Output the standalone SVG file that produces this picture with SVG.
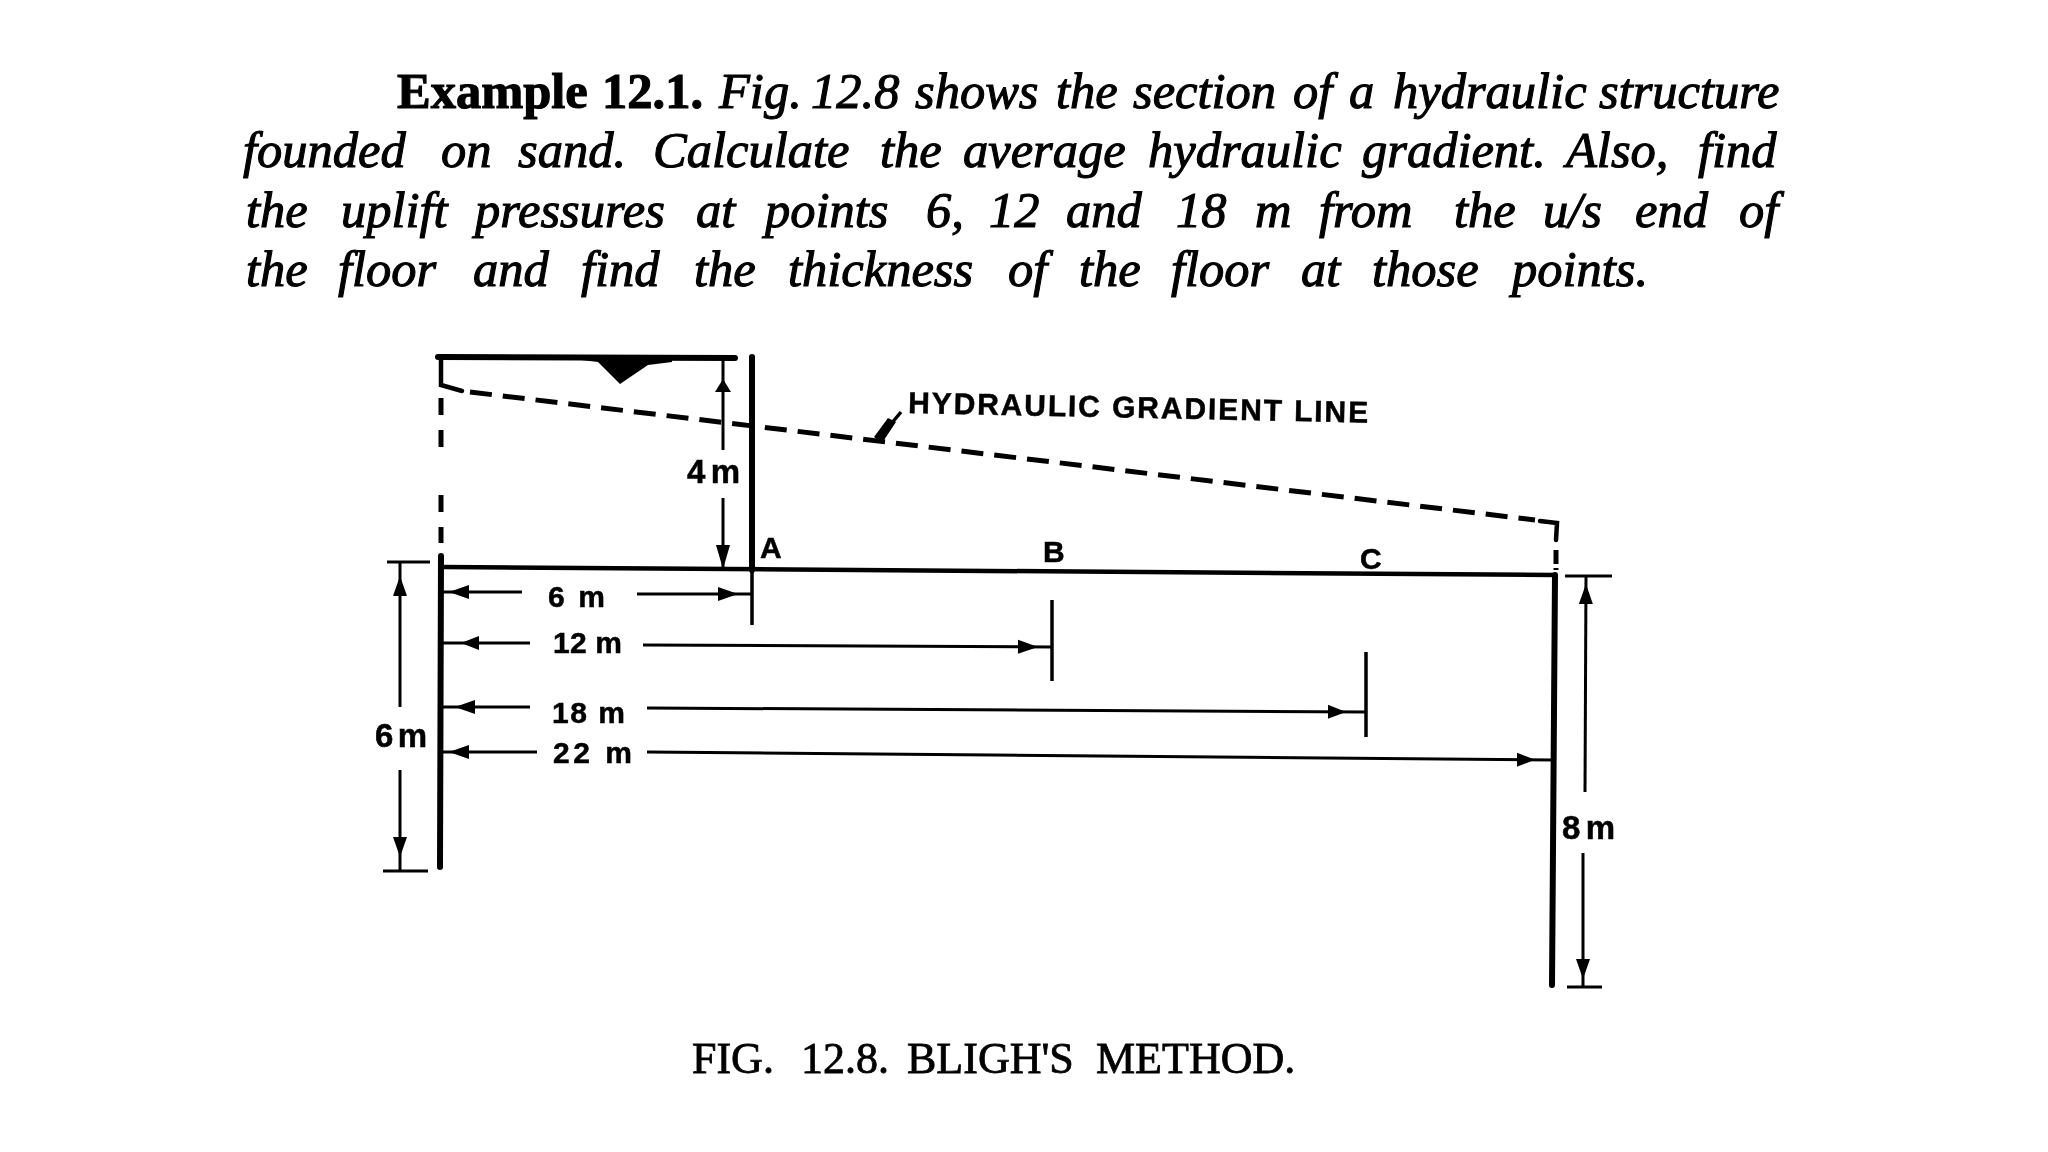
<svg xmlns="http://www.w3.org/2000/svg" width="2048" height="1152" viewBox="0 0 2048 1152">
<style>
.body{font-family:"Liberation Serif",serif;font-size:50.5px;font-style:italic;fill:#000;stroke:#000;stroke-width:1.1px}
.bold{font-weight:bold;font-style:normal}
.cap{font-family:"Liberation Serif",serif;font-size:44px;fill:#000;stroke:#000;stroke-width:.8px}
.lab{font-family:"Liberation Sans",sans-serif;font-size:30px;font-weight:bold;fill:#000;stroke:#000;stroke-width:.5px}
.big{font-size:33px}
.wall{stroke:#000;stroke-width:6;fill:none;stroke-linecap:round}
.floor{stroke:#000;stroke-width:4.5;fill:none;stroke-linecap:round}
.thin{stroke:#000;stroke-width:3.5;fill:none}
.dim{stroke:#000;stroke-width:3;fill:none}
.dash{stroke:#000;stroke-width:5;fill:none;stroke-dasharray:22 11}
</style>
<defs>
<filter id="soft" x="0" y="0" width="100%" height="100%"><feGaussianBlur stdDeviation="0.7"/></filter>
<marker id="ah8" markerUnits="userSpaceOnUse" viewBox="0 0 32 18" refX="30" refY="9" markerWidth="32" markerHeight="18" orient="auto"><path d="M2,2 L22,9 L2,16 Z"/></marker>
<marker id="ah14" markerUnits="userSpaceOnUse" viewBox="0 0 40 18" refX="38" refY="9" markerWidth="40" markerHeight="18" orient="auto"><path d="M4,2 L24,9 L4,16 Z"/></marker>
<marker id="ah20" markerUnits="userSpaceOnUse" viewBox="0 0 44 18" refX="42" refY="9" markerWidth="44" markerHeight="18" orient="auto"><path d="M4,2 L22,9 L4,16 Z"/></marker>
<marker id="ah0" markerUnits="userSpaceOnUse" viewBox="0 0 26 18" refX="24" refY="9" markerWidth="26" markerHeight="18" orient="auto"><path d="M0,2 L24,9 L0,16 Z"/></marker>
</defs>
<rect width="2048" height="1152" fill="#fff"/>
<g filter="url(#soft)">
<g id="problem-text">
<text class="body" y="108"><tspan class="bold" x="397">Example</tspan><tspan class="bold" x="602">12.1.</tspan><tspan x="719">Fig.</tspan><tspan x="811">12.8</tspan><tspan x="915">shows</tspan><tspan x="1056">the</tspan><tspan x="1133">section</tspan><tspan x="1293">of</tspan><tspan x="1349">a</tspan><tspan x="1393">hydraulic</tspan><tspan x="1599">structure</tspan></text>
<text class="body" y="167"><tspan x="243">founded</tspan><tspan x="441">on</tspan><tspan x="518">sand.</tspan><tspan x="653">Calculate</tspan><tspan x="880">the</tspan><tspan x="963">average</tspan><tspan x="1148">hydraulic</tspan><tspan x="1362">gradient.</tspan><tspan x="1566">Also,</tspan><tspan x="1698">find</tspan></text>
<text class="body" y="227"><tspan x="246">the</tspan><tspan x="341">uplift</tspan><tspan x="475">pressures</tspan><tspan x="696">at</tspan><tspan x="765">points</tspan><tspan x="926">6,</tspan><tspan x="989">12</tspan><tspan x="1066">and</tspan><tspan x="1176">18</tspan><tspan x="1255">m</tspan><tspan x="1319">from</tspan><tspan x="1454">the</tspan><tspan x="1543">u/s</tspan><tspan x="1635">end</tspan><tspan x="1739">of</tspan></text>
<text class="body" y="286"><tspan x="246">the</tspan><tspan x="338">floor</tspan><tspan x="473">and</tspan><tspan x="581">find</tspan><tspan x="694">the</tspan><tspan x="788">thickness</tspan><tspan x="1008">of</tspan><tspan x="1079">the</tspan><tspan x="1171">floor</tspan><tspan x="1301">at</tspan><tspan x="1372">those</tspan><tspan x="1512">points.</tspan></text>
</g>
<g id="water-level">
<line class="wall" x1="438" y1="357" x2="735" y2="358"/>
<polygon points="565,358 598,362 620,384 648,365 672,362 672,357"/>
</g>
<g id="floor">
<line class="floor" x1="441" y1="567" x2="1555" y2="575"/>
</g>
<g id="pile-upstream"><line class="wall" x1="441" y1="556" x2="440" y2="867"/></g>
<g id="pile-A">
<line class="wall" x1="752" y1="357" x2="752" y2="570"/>
<line class="thin" x1="752" y1="570" x2="752" y2="625"/>
<text class="lab" x="760" y="558">A</text>
</g>
<g id="pile-B">
<line class="thin" x1="1052" y1="600" x2="1052" y2="681"/>
<text class="lab" x="1043" y="562">B</text>
</g>
<g id="pile-C">
<line class="thin" x1="1366" y1="652" x2="1366" y2="737"/>
<text class="lab" x="1360" y="569">C</text>
</g>
<g id="pile-downstream"><line class="wall" x1="1555" y1="575" x2="1552" y2="985"/></g>
<g id="hydraulic-gradient">
<path class="floor" d="M441,360 L441,385 L462,391"/>
<line class="dash" x1="470" y1="392" x2="1535" y2="520"/>
<path class="floor" d="M1540,521 L1557,523 L1556,540"/>
<line class="dash" x1="441" y1="398" x2="441" y2="544" style="stroke-dasharray:17 15 17 48 17 15 16 100"/>
<line class="dash" x1="1556" y1="550" x2="1556" y2="570" style="stroke-dasharray:14 4"/>
<text class="lab" x="908" y="413" textLength="460" lengthAdjust="spacing" transform="rotate(1.2 908 413)">HYDRAULIC GRADIENT LINE</text>
<line class="thin" x1="901" y1="412" x2="876" y2="442"/>
<polygon points="888,418 896,422 882,443 874,437"/>
</g>
<g id="connectors">
<line class="dim" x1="723" y1="357" x2="723" y2="450"/>
<polygon points="723,379 715,392 731,392"/>
<line class="dim" x1="723" y1="498" x2="723" y2="569" marker-end="url(#ah0)"/>
<line class="dim" x1="522" y1="592" x2="441" y2="592" marker-end="url(#ah8)"/>
<line class="dim" x1="637" y1="594" x2="752" y2="594" marker-end="url(#ah14)"/>
<line class="dim" x1="530" y1="643" x2="441" y2="643" marker-end="url(#ah20)"/>
<line class="dim" x1="643" y1="645" x2="1052" y2="647" marker-end="url(#ah14)"/>
<line class="dim" x1="530" y1="707" x2="441" y2="707" marker-end="url(#ah14)"/>
<line class="dim" x1="647" y1="708" x2="1366" y2="712" marker-end="url(#ah20)"/>
<line class="dim" x1="537" y1="752" x2="441" y2="752" marker-end="url(#ah8)"/>
<line class="dim" x1="647" y1="752" x2="1555" y2="760" marker-end="url(#ah20)"/>
<line class="dim" x1="387" y1="562" x2="430" y2="562"/>
<line class="dim" x1="400" y1="707" x2="400" y2="562" marker-end="url(#ah14)"/>
<line class="dim" x1="400" y1="770" x2="400" y2="871" marker-end="url(#ah14)"/>
<line class="dim" x1="383" y1="871" x2="428" y2="871"/>
<line class="dim" x1="1565" y1="576" x2="1612" y2="576"/>
<line class="dim" x1="1585" y1="792" x2="1586" y2="576" marker-end="url(#ah8)"/>
<line class="dim" x1="1583" y1="853" x2="1583" y2="987" marker-end="url(#ah8)"/>
<line class="dim" x1="1567" y1="987" x2="1602" y2="987"/>
</g>
<g id="dimension-labels">
<text class="lab big" x="687" y="483" textLength="53" lengthAdjust="spacing">4m</text>
<text class="lab" x="548" y="607" textLength="57" lengthAdjust="spacing">6 m</text>
<text class="lab" x="553" y="653" textLength="69" lengthAdjust="spacing">12 m</text>
<text class="lab" x="552" y="723" textLength="73" lengthAdjust="spacing">18 m</text>
<text class="lab" x="553" y="763" textLength="79" lengthAdjust="spacing">22 m</text>
<text class="lab big" x="375" y="747" textLength="52" lengthAdjust="spacing">6m</text>
<text class="lab big" x="1562" y="839" textLength="53" lengthAdjust="spacing">8m</text>
</g>
<g id="caption">
<text class="cap" y="1073"><tspan x="692">FIG.</tspan><tspan x="801">12.8.</tspan><tspan x="907">BLIGH'S</tspan><tspan x="1096">METHOD.</tspan></text>
</g>
</g>
</svg>
